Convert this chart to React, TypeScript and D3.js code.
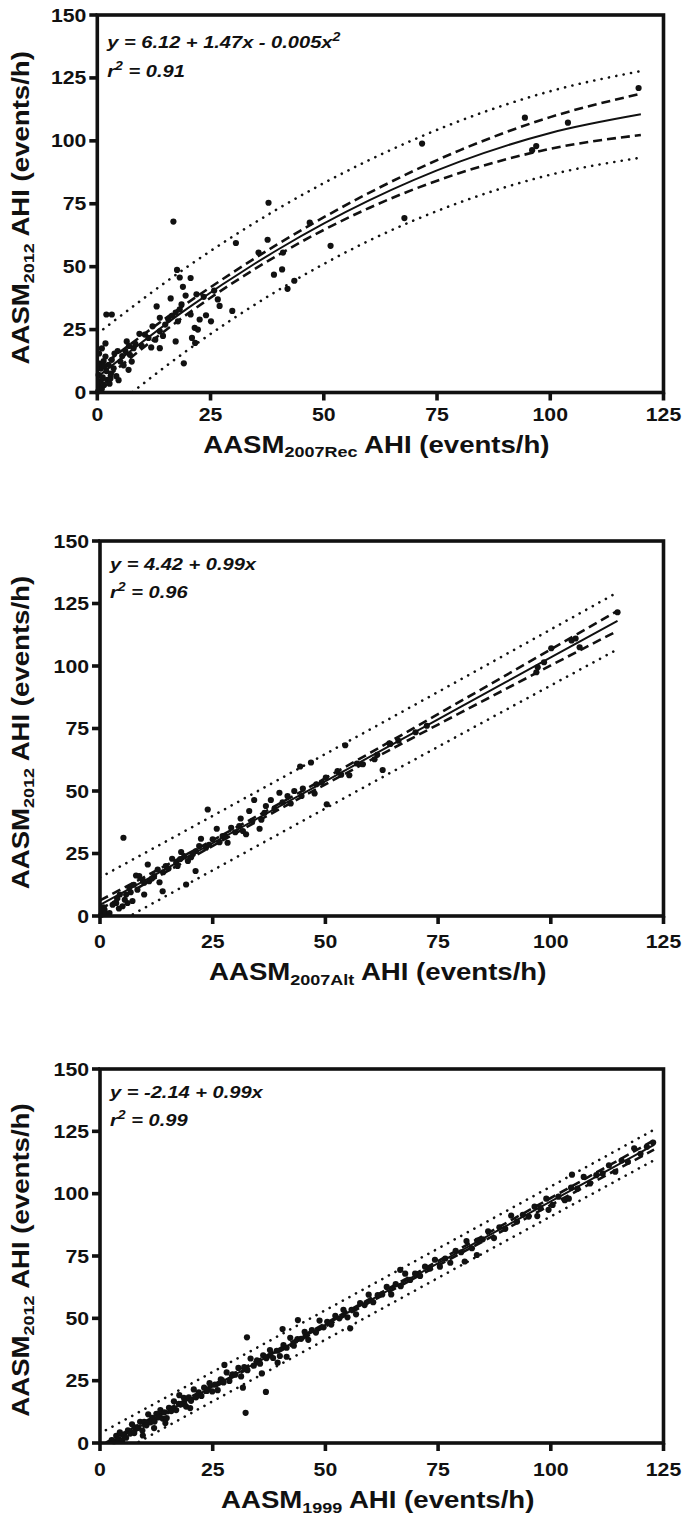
import React, { useEffect, useRef } from 'react';
import * as d3 from 'd3';

// AHI pairs (x = comparison rule, y = AASM 2012), one array per panel
const recPoints: [number, number][] = [
  [0.2, 0.5], [0.4, 2.5], [0.6, 4.5], [0.3, 7], [0.8, 9.5], [0.5, 11.5], [1.0, 1.5], [1.2, 6], [1.5, 3], [1.4, 12.5],
  [0.4, 15.5], [1.0, 17.5], [1.8, 19.5], [1.8, 14.3], [2.0, 8.5], [2.2, 5], [2.5, 11], [2.7, 3.5], [2.9, 5.6], [3.0, 7.5],
  [3.2, 13], [3.6, 9.6], [3.8, 15.5], [4.2, 6.5], [4.7, 4.9], [5.1, 12.3], [5.5, 14.5], [5.8, 10.8], [6.5, 20.3], [6.9, 9],
  [7.2, 15], [7.6, 12.3], [8.0, 17.6], [8.4, 19.3], [7.0, 18.5], [6.2, 16.5], [2.0, 31], [3.2, 31], [4.5, 16.5], [1.6, 10.5],
  [9.3, 23.3], [9.8, 18.5], [10.5, 23], [11.3, 21.7], [11.9, 17.9], [12.2, 26.3], [13.1, 34.2], [13.8, 29.7], [13.8, 24.3], [13.8, 17.6],
  [12.8, 21], [14.5, 22.5], [15.7, 29], [16.2, 37.4], [17.3, 31.7], [17.3, 20.3], [17.6, 48.7], [17.8, 28.3], [18.2, 45.7], [18.2, 33],
  [18.6, 35], [18.9, 42], [19.1, 11.6], [20.6, 45.5], [20.6, 31], [20.9, 21.7], [21.5, 25.7], [21.6, 19.7], [21.9, 39], [22.2, 25],
  [22.6, 29], [24.0, 30.7], [25.1, 28.3], [26.6, 37], [27.0, 34.4], [29.8, 32.4], [30.6, 59.4], [16.8, 67.9], [15.0, 27], [16.5, 30.5],
  [19.5, 38.5], [23.5, 38], [25.8, 40.5], [35.6, 55.6], [37.6, 60.7], [37.8, 75.4], [39.0, 46.8], [40.8, 48.9], [41.0, 55.6], [42.0, 41.2],
  [43.5, 44.4], [46.9, 67.5], [51.5, 58.3], [67.8, 69.3], [71.7, 98.9], [94.4, 109.2], [96.0, 96.3], [96.9, 97.9], [103.9, 107.2], [119.5, 121],
];

const altPoints: [number, number][] = [
  [0.3, 0.5], [0.6, 1.5], [1.0, 2.5], [1.3, 1], [2.1, 1.2], [0.8, 3.5], [3.6, 5.2], [4.4, 8.6], [5.0, 3.9], [5.2, 31.3],
  [5.8, 8.6], [6.1, 5.2], [6.5, 11.3], [4.2, 3], [3.8, 7], [5.5, 6.5], [6.8, 9.5], [7.5, 12.5], [8.0, 16.2], [8.7, 16],
  [9.5, 14.3], [9.8, 8.6], [9.8, 13.3], [10.6, 20.6], [10.9, 13.9], [12.0, 16], [12.8, 18.6], [13.2, 13.5], [13.9, 9.9], [14.6, 20],
  [16.0, 22.9], [16.9, 21.3], [17.2, 20], [18.0, 25.6], [18.7, 24], [19.1, 12.6], [19.5, 22], [21.2, 18], [21.3, 26], [22.0, 28],
  [22.4, 30.9], [23.5, 27.3], [23.9, 42.6], [25.0, 30.7], [25.9, 34.9], [27.2, 32], [28.3, 29.3], [29.1, 35.3], [30.9, 36], [31.7, 34],
  [32.4, 32.7], [33.1, 42], [34.2, 46.4], [35.4, 34.9], [36.5, 41.3], [37.9, 46.4], [38.7, 42.9], [39.8, 49.3], [41.6, 48], [43.1, 50],
  [44.4, 59.8], [45.0, 51], [46.8, 61.4], [47.6, 49], [48.0, 52.7], [50.1, 55.4], [50.3, 44.7], [52.7, 58], [54.4, 68.3], [55.3, 56.3],
  [58.3, 60.7], [60.9, 62.7], [62.7, 58.4], [64.2, 69.1], [64.4, 68.8], [66.2, 70.1], [72.5, 76.1], [96.8, 97.5], [97.1, 99.5], [100.1, 107.1],
  [104.6, 110.2], [106.4, 107.5], [114.8, 121.5], [11.5, 15], [15.2, 19], [20.2, 23.5], [24.2, 28.5], [26.5, 29.5], [30.0, 33.5], [33.8, 38],
  [35.8, 38.5], [40.5, 45.5], [42.3, 45], [2.8, 4.5], [7.2, 6], [8.3, 10.5], [14.0, 17.5], [17.8, 22.8], [20.6, 24.8], [27.8, 31.8],
  [31.2, 39], [36.8, 44], [44.7, 48], [49.2, 53.5], [53.5, 56.5], [57.0, 61], [61.5, 64.5], [70.0, 73.5], [98.5, 101.5], [105.5, 111],
];

const points1999: [number, number][] = [
  [2.6, 1.2], [3.1, 0.7], [3.6, 2.9], [4.0, 1.4], [4.4, 4.3], [4.9, 0.9], [5.3, 3.4], [5.8, 2.1], [6.2, 5.1], [6.7, 3.8],
  [7.1, 7.5], [7.6, 4.0], [8.0, 6.3], [8.5, 6.1], [8.9, 8.5], [9.4, 5.0], [9.8, 8.5], [10.3, 7.1], [10.7, 11.5], [11.2, 8.3],
  [11.6, 10.1], [12.1, 8.6], [12.5, 11.7], [13.0, 10.3], [13.4, 13.2], [13.9, 9.8], [14.3, 12.3], [14.8, 10.0], [15.3, 14.1], [15.8, 12.8],
  [16.4, 16.7], [16.9, 13.2], [17.5, 15.7], [18.0, 15.5], [18.6, 18.1], [19.1, 14.6], [19.7, 18.3], [20.2, 16.9], [20.8, 21.5], [21.3, 18.3],
  [21.9, 20.3], [22.5, 18.9], [23.1, 22.2], [23.7, 20.9], [24.3, 24.0], [24.9, 20.7], [25.5, 23.4], [26.1, 21.2], [26.8, 25.5], [27.4, 24.3],
  [28.1, 28.3], [28.7, 24.9], [29.4, 27.5], [30.0, 27.4], [30.7, 30.1], [31.3, 26.7], [32.0, 30.4], [32.7, 29.2], [33.4, 33.9], [34.1, 31.0],
  [34.8, 33.1], [35.5, 31.8], [36.2, 35.2], [36.9, 34.0], [37.7, 37.3], [38.4, 34.1], [39.2, 37.0], [39.9, 34.9], [40.7, 39.3], [41.4, 38.2],
  [42.2, 42.2], [43.0, 39.0], [43.8, 41.7], [44.6, 41.8], [45.4, 44.6], [46.2, 41.4], [47.0, 45.3], [47.9, 44.3], [48.7, 49.1], [49.6, 46.4],
  [50.4, 48.6], [51.3, 47.5], [52.2, 51.0], [53.1, 50.0], [54.0, 53.4], [54.9, 50.4], [55.8, 53.4], [56.8, 51.6], [57.7, 56.1], [58.7, 55.3],
  [59.6, 59.5], [60.6, 56.5], [61.6, 59.3], [62.6, 59.6], [63.6, 62.6], [64.6, 59.6], [65.6, 63.7], [66.7, 62.9], [67.7, 67.9], [68.8, 65.4],
  [69.9, 67.9], [71.0, 67.0], [72.1, 70.7], [73.2, 69.9], [74.3, 73.5], [75.4, 70.7], [76.6, 74.0], [77.7, 72.3], [78.9, 77.1], [80.1, 76.5],
  [81.3, 81.0], [82.5, 78.1], [83.7, 81.2], [84.9, 81.7], [86.1, 84.9], [87.4, 82.2], [88.6, 86.5], [89.9, 85.9], [91.2, 91.2], [92.5, 88.8],
  [93.8, 91.5], [95.1, 90.8], [96.4, 94.8], [97.7, 94.2], [99.0, 98.0], [100.4, 95.5], [101.7, 98.8], [103.1, 97.4], [104.5, 102.4], [105.9, 102.0],
  [107.3, 106.7], [108.7, 104.1], [110.1, 107.4], [111.5, 108.1], [112.9, 111.4], [114.3, 108.8], [115.7, 113.3], [117.1, 112.8], [118.5, 118.2], [119.9, 116.0],
  [121.3, 118.8], [122.7, 120.5], [32.3, 12.1], [32.6, 42.4], [36.8, 20.5], [40.5, 45.7], [43.9, 49.3], [31.7, 22.2], [35.9, 27.9], [39.4, 32.2],
  [55.5, 46.0], [66.6, 69.4], [104.7, 107.6], [83.6, 75.4], [80.9, 72.8], [17.6, 19.2], [27.6, 31.3], [41.4, 34.6], [97.0, 91.0], [99.5, 93.5],
  [104.0, 98.0], [9.5, 3.0], [12.0, 6.0], [14.5, 8.0], [20.0, 14.0],
];

// regression coefficients [intercept, x, x^2] and r^2
const recCoef = [6.12, 1.47, -0.005];
const altCoef = [4.42, 0.99];
const coef1999 = [-2.14, 0.99];
const rSquared = [0.91, 0.96, 0.99];

// half widths of the 95% confidence (dashed) and prediction (dotted) bands
const recBandX = [0, 20, 40, 60, 80, 100, 120];
const recCiHalf = [3.2, 2.2, 2.2, 3.0, 4.5, 6.3, 8.2];
const recPiHalf = [17.2, 16.6, 16.2, 16.0, 16.2, 16.6, 17.2];

const altBandX = [0, 20, 40, 60, 80, 100, 114.8];
const altCiHalf = [1.8, 1.2, 1.1, 1.5, 2.3, 3.2, 4.0];
const altPiHalf = [11.0, 10.9, 10.9, 10.9, 11.0, 11.2, 11.4];

const bandX1999 = [1.3, 20, 40, 60, 80, 100, 122.9];
const ciHalf1999 = [1.0, 0.7, 0.6, 0.7, 1.0, 1.4, 1.9];
const piHalf1999 = [6.0, 5.9, 5.9, 5.9, 5.9, 6.0, 6.1];

const xTicks = [0, 25, 50, 75, 100, 125];
const yTicks = [0, 25, 50, 75, 100, 125, 150];
const xSubs = ['2007Rec', '2007Alt', '1999'];
const ySub = '2012';

const FONT = '"Liberation Sans", Arial, Helvetica, sans-serif';
const INK = '#111';

const panels = [
  { points: recPoints, coef: recCoef, bandX: recBandX, ci: recCiHalf, pi: recPiHalf, top: 15, bottom: 392.5, left: 97.3, right: 663.5, tickGap: 28.5, titleGap: 60, eqGap: [33, 62] },
  { points: altPoints, coef: altCoef, bandX: altBandX, ci: altCiHalf, pi: altPiHalf, top: 541, bottom: 916, left: 100, right: 663.5, tickGap: 32, titleGap: 64, eqGap: [29, 57] },
  { points: points1999, coef: coef1999, bandX: bandX1999, ci: ciHalf1999, pi: piHalf1999, top: 1069, bottom: 1443, left: 100, right: 663.5, tickGap: 32.5, titleGap: 65, eqGap: [29, 57] },
];

const fmt = (v: number) => String(Math.abs(v));

const App = () => {
  const svgRef = useRef<SVGSVGElement>(null);

  useEffect(() => {
    const svg = d3.select(svgRef.current);
    svg.selectAll('*').remove();

    // text in this figure runs wider than Arial, so stretch it horizontally
    const stretched = (parent: any, x: number, y: number, sx: number, rotate = false) =>
      parent.append('g')
        .attr('transform', `translate(${x},${y})${rotate ? ' rotate(-90)' : ''} scale(${sx},1)`)
        .append('text')
        .style('font-family', FONT)
        .style('font-weight', 'bold')
        .attr('fill', INK);

    panels.forEach((p, i) => {
      const x = d3.scaleLinear().domain([0, 125]).range([p.left, p.right]);
      const y = d3.scaleLinear().domain([0, 150]).range([p.bottom, p.top]);
      const fit = (v: number) => p.coef[0] + p.coef[1] * v + (p.coef[2] || 0) * v * v;

      const clipId = `plot-clip-${i}`;
      svg.append('clipPath').attr('id', clipId)
        .append('rect')
        .attr('x', p.left).attr('y', p.top)
        .attr('width', p.right - p.left).attr('height', p.bottom - p.top);

      const g = svg.append('g');
      const lines = g.append('g').attr('clip-path', `url(#${clipId})`);

      const curve = d3.line<[number, number]>()
        .x(d => x(d[0]))
        .y(d => y(d[1]))
        .curve(d3.curveMonotoneX);
      const edge = (half: number[], sign: number) =>
        p.bandX.map((v, k) => [v, fit(v) + sign * half[k]] as [number, number]);

      // prediction band
      [1, -1].forEach(s => {
        lines.append('path')
          .attr('d', curve(edge(p.pi, s)))
          .attr('fill', 'none')
          .attr('stroke', INK)
          .attr('stroke-width', 2.6)
          .attr('stroke-linecap', 'round')
          .attr('stroke-dasharray', '0.1 7.4');
      });

      // confidence band
      [1, -1].forEach(s => {
        lines.append('path')
          .attr('d', curve(edge(p.ci, s)))
          .attr('fill', 'none')
          .attr('stroke', INK)
          .attr('stroke-width', 2.6)
          .attr('stroke-dasharray', '9 5');
      });

      // fitted curve
      lines.append('path')
        .attr('d', curve(p.bandX.map(v => [v, fit(v)] as [number, number])))
        .attr('fill', 'none')
        .attr('stroke', INK)
        .attr('stroke-width', 2);

      g.append('g').selectAll('circle')
        .data(p.points)
        .enter().append('circle')
        .attr('cx', d => x(d[0]))
        .attr('cy', d => y(d[1]))
        .attr('r', 3.1)
        .attr('fill', INK);

      // frame and ticks
      g.append('rect')
        .attr('x', p.left).attr('y', p.top)
        .attr('width', p.right - p.left).attr('height', p.bottom - p.top)
        .attr('fill', 'none')
        .attr('stroke', INK)
        .attr('stroke-width', 3.6);

      yTicks.forEach(t => {
        g.append('line')
          .attr('x1', p.left - 8).attr('x2', p.left)
          .attr('y1', y(t)).attr('y2', y(t))
          .attr('stroke', INK).attr('stroke-width', 3.6);
        stretched(g, p.left - 11, y(t) + 6.5, 1.18)
          .attr('text-anchor', 'end')
          .style('font-size', '18px')
          .text(t);
      });

      xTicks.forEach(t => {
        g.append('line')
          .attr('x1', x(t)).attr('x2', x(t))
          .attr('y1', p.bottom).attr('y2', p.bottom + 8)
          .attr('stroke', INK).attr('stroke-width', 3.6);
        stretched(g, x(t), p.bottom + p.tickGap, 1.18)
          .attr('text-anchor', 'middle')
          .style('font-size', '18px')
          .text(t);
      });

      // axis titles
      const xt = stretched(g, (p.left + p.right) / 2 - 4, p.bottom + p.titleGap, 1.2)
        .attr('text-anchor', 'middle')
        .style('font-size', '23px');
      xt.append('tspan').text('AASM');
      xt.append('tspan').attr('dy', 4.5).style('font-size', '15px').text(xSubs[i]);
      xt.append('tspan').attr('dy', -4.5).text(' AHI (events/h)');

      const yt = stretched(g, 29, (p.top + p.bottom) / 2 + 4, 1.2, true)
        .attr('text-anchor', 'middle')
        .style('font-size', '23px');
      yt.append('tspan').text('AASM');
      yt.append('tspan').attr('dy', 4.5).style('font-size', '15px').text(ySub);
      yt.append('tspan').attr('dy', -4.5).text(' AHI (events/h)');

      // regression equation
      const c = p.coef;
      const eq = stretched(g, p.left + 10, p.top + p.eqGap[0], 1.18)
        .style('font-size', '17px')
        .style('font-style', 'italic');
      let body = `y = ${c[0] < 0 ? '-' : ''}${fmt(c[0])} ${c[1] < 0 ? '-' : '+'} ${fmt(c[1])}x`;
      if (c.length > 2) body += ` ${c[2] < 0 ? '-' : '+'} ${fmt(c[2])}x`;
      eq.append('tspan').text(body);
      if (c.length > 2) eq.append('tspan').attr('dy', -7).style('font-size', '12px').text('2');

      const r2 = stretched(g, p.left + 10, p.top + p.eqGap[1], 1.18)
        .style('font-size', '17px')
        .style('font-style', 'italic');
      r2.append('tspan').text('r');
      r2.append('tspan').attr('dy', -7).style('font-size', '12px').text('2');
      r2.append('tspan').attr('dy', 7).text(` = ${rSquared[i].toFixed(2)}`);
    });
  }, []);

  return (
    <svg
      ref={svgRef}
      width={685}
      height={1523}
      style={{ position: 'absolute', left: 0, top: 0, background: '#fff' }}
    />
  );
};

export default App;
